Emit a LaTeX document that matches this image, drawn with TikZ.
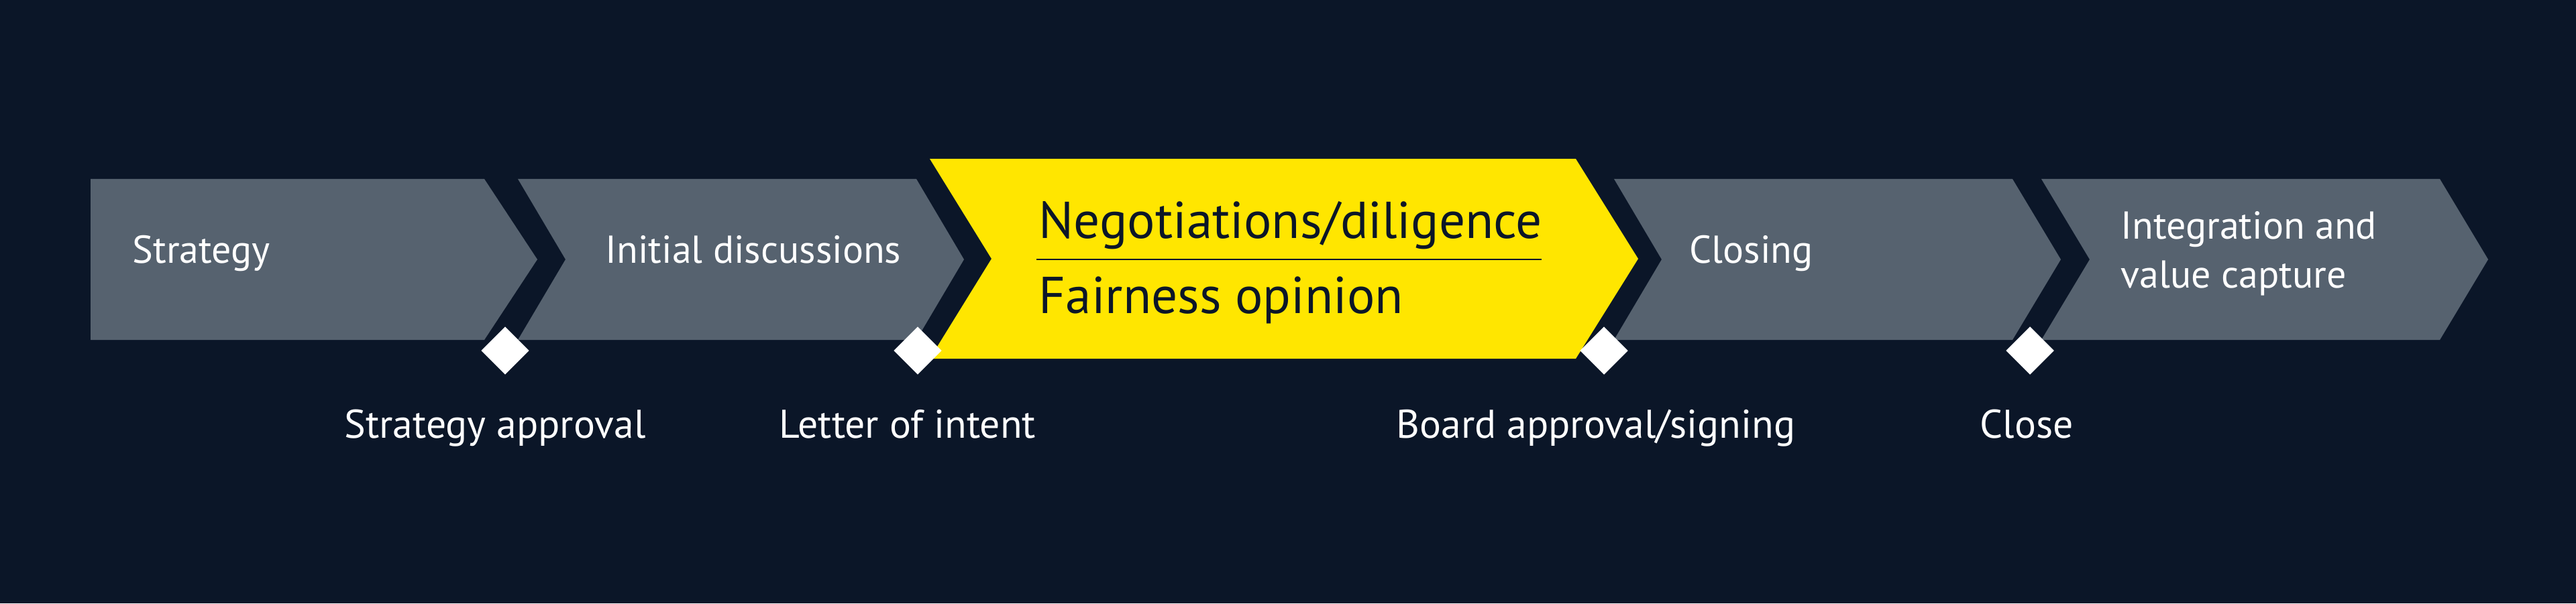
\documentclass[tikz,border=0pt]{standalone}
\usepackage{fontspec}
\setmainfont{PT Sans}
\usetikzlibrary{shapes.geometric}

\definecolor{navy}{HTML}{0B1628}
\definecolor{slate}{HTML}{56626F}
\definecolor{eyyellow}{HTML}{FFE600}

\tikzset{
  stage/.style={fill=slate},
  current/.style={fill=eyyellow},
  stagetext/.style={text=white, inner sep=0pt, anchor=base west, align=left,
    font=\fontsize{16.5}{20.5}\selectfont},
  currenttext/.style={text=navy, inner sep=0pt, anchor=base west,
    font=\fontsize{22}{26}\selectfont},
  milestone/.style={diamond, fill=white, inner sep=0pt, minimum size=0.72cm},
  milestonetext/.style={text=white, inner sep=0pt, anchor=base,
    font=\fontsize{17}{20.5}\selectfont}
}

\begin{document}
\begin{tikzpicture}
            % background
            \fill[navy] (0, 0) rectangle (38.4, 9);
            \useasboundingbox (0, 0) rectangle (38.4, 9);

            % stages
            \fill[stage]   (1.35, 6.33) -- (7.22, 6.33) -- (8.01, 5.13) -- (7.22, 3.93) -- (1.35, 3.93) -- cycle;
            \fill[stage]   (7.72, 6.33) -- (13.66, 6.33) -- (14.37, 5.13) -- (13.66, 3.93) -- (7.72, 3.93) -- (8.43, 5.13) -- cycle;
            \fill[current] (13.86, 6.63) -- (23.49, 6.63) -- (24.42, 5.14) -- (23.49, 3.65) -- (13.86, 3.65) -- (14.78, 5.14) -- cycle;
            \fill[stage]   (24.06, 6.33) -- (30.00, 6.33) -- (30.72, 5.13) -- (30.00, 3.93) -- (24.06, 3.93) -- (24.77, 5.13) -- cycle;
            \fill[stage]   (30.43, 6.33) -- (36.37, 6.33) -- (37.09, 5.13) -- (36.37, 3.93) -- (30.43, 3.93) -- (31.15, 5.13) -- cycle;

            \node[stagetext] (strategy) at (1.97, 5.08) {Strategy};
            \node[stagetext] (initial)  at (9.02, 5.07) {Initial discussions};
            \node[stagetext] (closing)  at (25.18, 5.08) {Closing};
            \node[stagetext] (integration) at (31.61, 4.71) {Integration and\\value capture};

            \node[currenttext] (negotiations) at (15.48, 5.45) {Negotiations/diligence};
            \node[currenttext] (fairness)     at (15.48, 4.33) {Fairness opinion};
            \draw[navy, line width=0.6pt] (15.45, 5.13) -- (22.98, 5.13);

            % milestones
            \node[milestone] (approval) at (7.53, 3.77) {};
            \node[milestone] (intent)   at (13.68, 3.77) {};
            \node[milestone] (signing)  at (23.91, 3.77) {};
            \node[milestone] (close)    at (30.26, 3.77) {};

            \node[milestonetext] at ([xshift=-1.5mm, yshift=-9.4mm]approval.south) {Strategy approval};
            \node[milestonetext] at ([xshift=-1.5mm, yshift=-9.4mm]intent.south)   {Letter of intent};
            \node[milestonetext] at ([xshift=-1.2mm, yshift=-9.4mm]signing.south)  {Board approval/signing};
            \node[milestonetext] at ([xshift=-0.5mm, yshift=-9.4mm]close.south)    {Close};
\end{tikzpicture}
\end{document}
